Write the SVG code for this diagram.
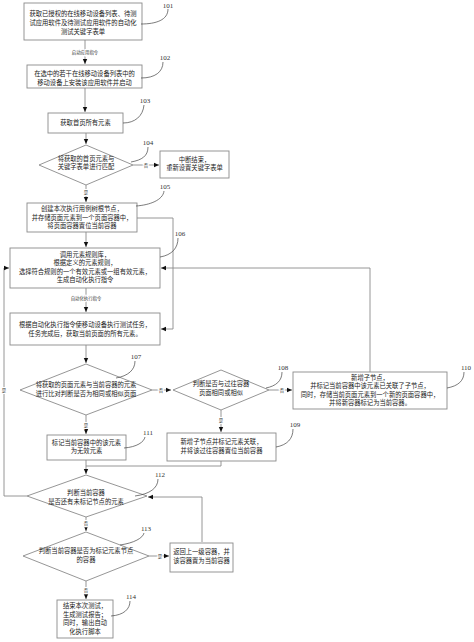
<svg xmlns="http://www.w3.org/2000/svg" width="474" height="642" viewBox="0 0 474 642">
<defs>
<marker id="ah" markerWidth="6" markerHeight="6" refX="5" refY="3" orient="auto" markerUnits="userSpaceOnUse">
<path d="M0,0.8 L5,3 L0,5.2 Z" fill="#111"/>
</marker>
<style>
.b{fill:#fff;stroke:#8a8a8a;stroke-width:0.9}
.t{font-family:"Noto Sans CJK SC","Noto Sans CJK JP",sans-serif;font-size:6.3px;fill:#222;text-anchor:middle}
.s{font-family:"Noto Sans CJK SC",sans-serif;font-size:4.4px;fill:#333;text-anchor:middle;stroke:#fff;stroke-width:2;paint-order:stroke}
.n{font-family:"Liberation Serif",serif;font-size:7px;fill:#333;text-anchor:middle}
.c{fill:none;stroke:#8a8a8a;stroke-width:0.9}
.a{fill:none;stroke:#8a8a8a;stroke-width:0.9;marker-end:url(#ah)}
.l{fill:none;stroke:#444;stroke-width:0.7}
</style>
</defs>
<rect width="474" height="642" fill="#fff"/>

<g id="connectors">
<path class="a" d="M85,40 V64"/>
<path class="a" d="M85,88 V112"/>
<path class="a" d="M86,133 V144"/>
<path class="a" d="M133,165 H159"/>
<path class="a" d="M86,185 V202"/>
<path class="a" d="M86,232 V247"/>
<path class="a" d="M86,288 V312"/>
<path class="a" d="M137,218 H173 V329 H161"/>
<path class="a" d="M370,372 V268 H161"/>
<path class="a" d="M86,345 V363"/>
<path class="a" d="M152,390 H171"/>
<path class="a" d="M269,390 H292"/>
<path class="a" d="M221,410 V432"/>
<path class="a" d="M86,415 V434"/>
<path class="c" d="M86,460 V466 H221 V461"/>
<path class="a" d="M86,466 V474"/>
<path class="a" d="M27,496 H4 V268 H9"/>
<path class="a" d="M86,517 V531"/>
<path class="a" d="M149,556 H169"/>
<path class="a" d="M202,542 V497 H148"/>
<path class="a" d="M86,581 V599"/>
<text class="s" x="85" y="54">启动应用指令</text>
<text class="s" x="86" y="300">自动化执行指令</text>
<text class="s" x="146" y="167">否</text>
<text class="s" x="86" y="194">是</text>
<text class="s" x="161" y="392">否</text>
<text class="s" x="282" y="392">否</text>
<text class="s" x="221" y="422">是</text>
<text class="s" x="86" y="427">是</text>
<text class="s" x="4" y="392">是</text>
<text class="s" x="86" y="525">否</text>
<text class="s" x="160" y="558">是</text>
<text class="s" x="86" y="592">否</text>
</g>

<g id="n101">
<rect class="b" x="24" y="3" width="118" height="37"/>
<text class="t" x="83" y="16">获取已授权的在线移动设备列表、待测</text>
<text class="t" x="83" y="25">试应用软件及待测试应用软件的自动化</text>
<text class="t" x="83" y="34">测试关键字表单</text>
<path class="l" d="M141,24 C156,24 168,20 168,9"/>
<text class="n" x="168" y="8">101</text>
</g>

<g id="n102">
<rect class="b" x="27" y="65" width="115" height="23"/>
<text class="t" x="84.5" y="76">在选中的若干在线移动设备列表中的</text>
<text class="t" x="84.5" y="84.5">移动设备上安装该应用软件并启动</text>
<path class="l" d="M141,78 C155,78 163,72 163,62"/>
<text class="n" x="165" y="60">102</text>
</g>

<g id="n103">
<rect class="b" x="48" y="113" width="75" height="20"/>
<text class="t" x="85.5" y="125">获取首页所有元素</text>
<path class="l" d="M123,123 C135,123 143,116 144,105"/>
<text class="n" x="145" y="103">103</text>
</g>

<g id="n104">
<path class="b" d="M86,145 L133,165 L86,185 L39,165 Z"/>
<text class="t" x="86" y="161">将获取的首页元素与</text>
<text class="t" x="86" y="169">关键字表单进行匹配</text>
<path class="l" d="M131,162 C142,160 148,156 148,147"/>
<text class="n" x="148" y="145">104</text>
</g>

<g id="nstop">
<rect class="b" x="160" y="151" width="69" height="27"/>
<text class="t" x="194.5" y="161.5">中断结束，</text>
<text class="t" x="194.5" y="170">重新设置关键字表单</text>
</g>

<g id="n105">
<rect class="b" x="27" y="203" width="110" height="29"/>
<text class="t" x="82" y="211">创建本次执行用例树根节点，</text>
<text class="t" x="82" y="219.5">并存储页面元素到一个页面容器中，</text>
<text class="t" x="82" y="228">将页面容器置位当前容器</text>
<path class="l" d="M136,206 C150,205 163,200 164,191"/>
<text class="n" x="165" y="189">105</text>
</g>

<g id="n106">
<rect class="b" x="10" y="248" width="150" height="40"/>
<text class="t" x="85" y="257">调用元素规则库，</text>
<text class="t" x="85" y="265">根据定义的元素规则，</text>
<text class="t" x="85" y="273.5">选择符合规则的一个有效元素或一组有效元素，</text>
<text class="t" x="85" y="282">生成自动化执行指令</text>
<path class="l" d="M160,257 C172,255 178,248 178,238"/>
<text class="n" x="180" y="236">106</text>
</g>

<g id="nexec">
<rect class="b" x="10" y="313" width="150" height="32"/>
<text class="t" x="85" y="327">根据自动化执行指令使移动设备执行测试任务，</text>
<text class="t" x="85" y="335.5">任务完成后，获取当前页面的所有元素。</text>
</g>

<g id="n107">
<path class="b" d="M86,364 L152,390 L86,415 L20,390 Z"/>
<text class="t" x="86" y="387">将获取的页面元素与当前容器的元素</text>
<text class="t" x="86" y="395.5">进行比对判断是否为相同或相似页面</text>
<path class="l" d="M116,378 C128,376 135,370 135,361"/>
<text class="n" x="136" y="359">107</text>
</g>

<g id="n108">
<path class="b" d="M221,370 L269,390 L221,410 L173,390 Z"/>
<text class="t" x="221" y="386">判断是否与过往容器</text>
<text class="t" x="221" y="394.5">页面相同或相似</text>
<path class="l" d="M266,388 C276,386 282,381 282,372"/>
<text class="n" x="283" y="370">108</text>
</g>

<g id="n110">
<rect class="b" x="293" y="372" width="154" height="37"/>
<text class="t" x="370" y="379.5">新增子节点，</text>
<text class="t" x="370" y="388">并标记当前容器中该元素已关联了子节点，</text>
<text class="t" x="370" y="396.5">同时，存储当前页面元素到一个新的页面容器中，</text>
<text class="t" x="370" y="405">并将新容器标记为当前容器。</text>
<path class="l" d="M447,388 C458,386 464,381 464,372"/>
<text class="n" x="466" y="370">110</text>
</g>

<g id="n109">
<rect class="b" x="167" y="433" width="109" height="28"/>
<text class="t" x="221.5" y="444">新增子节点并标记元素关联，</text>
<text class="t" x="221.5" y="452.5">并将该过往容器置位当前容器</text>
<path class="l" d="M276,447 C287,445 293,439 293,429"/>
<text class="n" x="295" y="427">109</text>
</g>

<g id="n111">
<rect class="b" x="47" y="435" width="79" height="25"/>
<text class="t" x="86.5" y="444.5">标记当前容器中的该元素</text>
<text class="t" x="86.5" y="453">为无效元素</text>
<path class="l" d="M124,448 C137,447 144,442 145,437"/>
<text class="n" x="148" y="435">111</text>
</g>

<g id="n112">
<path class="b" d="M86,475 L147,496 L86,517 L27,496 Z"/>
<text class="t" x="86" y="494.5">判断当前容器</text>
<text class="t" x="86" y="503.5">是否还有未标记节点的元素</text>
<path class="l" d="M135,496 C150,494 158,488 158,479"/>
<text class="n" x="160" y="477">112</text>
</g>

<g id="n113">
<path class="b" d="M86,532 L149,556 L86,581 L23,556 Z"/>
<text class="t" x="86" y="553">判断当前容器是否为标记元素节点</text>
<text class="t" x="86" y="561.5">的容器</text>
<path class="l" d="M120,545 C134,543 143,538 144,533"/>
<text class="n" x="146" y="531">113</text>
</g>

<g id="nreturn">
<rect class="b" x="170" y="543" width="63" height="29"/>
<text class="t" x="201.5" y="554">返回上一级容器，并</text>
<text class="t" x="201.5" y="562.5">该容器置为当前容器</text>
</g>

<g id="n114">
<rect class="b" x="57" y="600" width="56" height="38"/>
<text class="t" x="85" y="608">结束本次测试，</text>
<text class="t" x="85" y="616.5">生成测试报告；</text>
<text class="t" x="85" y="625">同时，输出自动</text>
<text class="t" x="85" y="633.5">化执行脚本</text>
<path class="l" d="M111,616 C124,615 130,609 130,601"/>
<text class="n" x="131" y="599">114</text>
</g>
</svg>
